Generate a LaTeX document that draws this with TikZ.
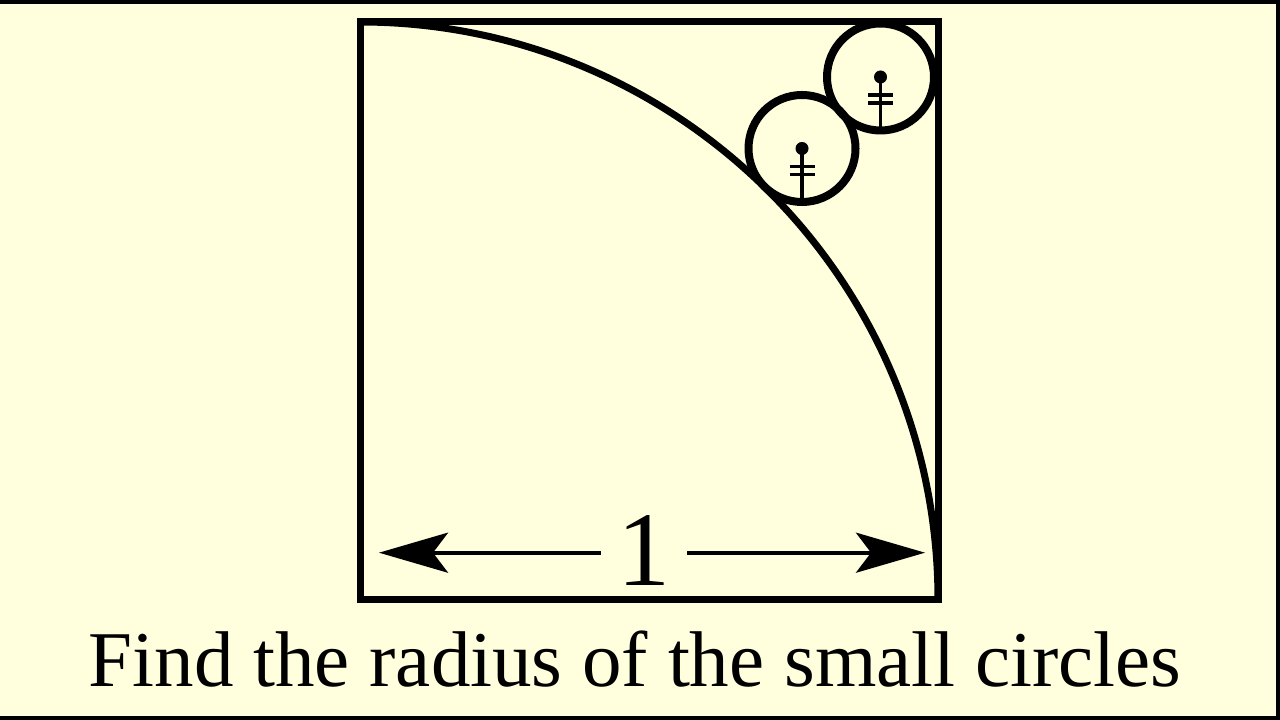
\documentclass[tikz,border=0pt]{standalone}
\usepackage{fontspec}
\setmainfont{Liberation Serif}
\usetikzlibrary{arrows.meta,positioning}
\definecolor{paper}{RGB}{255,255,222}

\begin{document}
\begin{tikzpicture}[
    x = 1pt, y = 1pt, % one unit per pixel
    edge/.style = {line width = 7pt}, % square and quarter arc
    ring/.style = {draw, circle, line width = 8pt, minimum size = 107pt, inner sep = 0pt},
    dim/.style = {line width = 4pt, -{Stealth[length=69pt,width=40pt,inset=15pt]}},
    tick/.style = {line width = 3.5pt}
    ]

    % page and frame
    \fill[paper] (0,0) rectangle (1280,720);
    \fill[black] (0,716) rectangle (1280,720);
    \fill[black] (0,0) rectangle (1280,4);
    \fill[black] (1276,0) rectangle (1280,720);

    % square with the quarter circle
    \coordinate (O) at (360,120);
    \draw[edge] (O) rectangle ++(578,578);
    \draw[edge] (360,698) arc[start angle=90, end angle=0, radius=578];

    % the two small circles
    \node[ring] (up) at (880.5,643) {};
    \node[ring] (lo) at (802,571.5) {};
    \foreach \c in {up,lo} {
        \fill (\c.center) circle (6.5);
        \draw[tick] (\c.center) -- ([yshift=4pt]\c.south);
        \draw[tick] ([shift={(-12.5,-18)}]\c.center) -- ++(25,0);
        \draw[tick] ([shift={(-12.5,-26)}]\c.center) -- ++(25,0);
    }

    % width of the square
    \node[minimum width=86pt, inner sep=0pt, anchor=base,
          font=\fontsize{106}{110}\selectfont] (one) at (644,134) {1};
    \coordinate (la) at (379,167.3);
    \coordinate (ra) at (925,167.3);
    \draw[dim] (la -| one.west) -- (la);
    \draw[dim] (ra -| one.east) -- (ra);

    % caption
    \node[anchor=base, inner sep=0pt, font=\fontsize{79}{84}\selectfont]
        (ask) at (635,33) {Find the radius of the small circles};
\end{tikzpicture}
\end{document}
